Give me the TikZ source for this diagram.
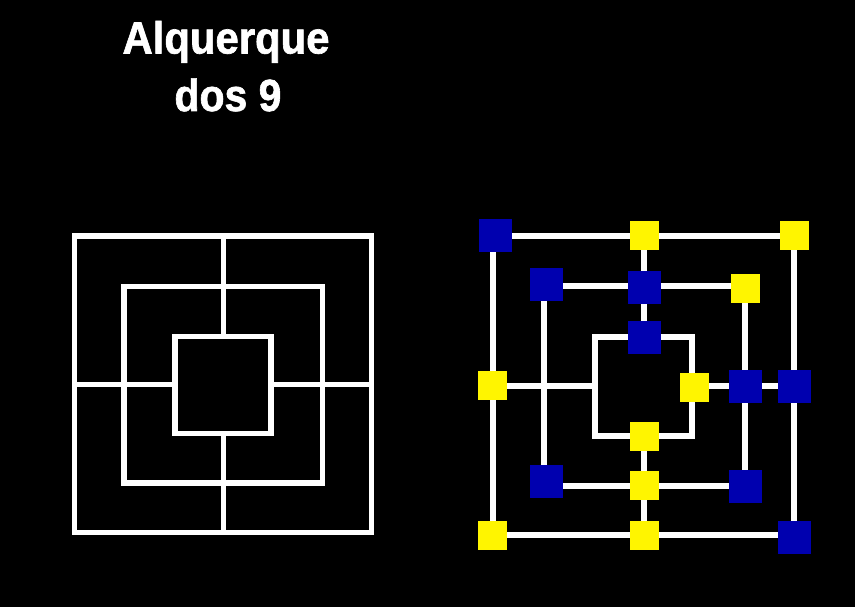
\documentclass[tikz,border=0pt]{standalone}
\usepackage{fontspec}
\setmainfont{Liberation Sans}
\newfontfamily\titlefont[BoldFeatures={FakeBold=1.5}]{Liberation Sans}
\definecolor{pieceblue}{RGB}{0,0,175}
\definecolor{pieceyellow}{RGB}{255,245,0}
\tikzset{board/.style={draw=white,line width=5.5pt},
 bluepiece/.style={fill=pieceblue,minimum size=33pt,inner sep=0pt},
 yellowpiece/.style={fill=pieceyellow,minimum size=29pt,inner sep=0pt},
 titletext/.style={text=white,font=\titlefont\bfseries\fontsize{45}{50}\selectfont,anchor=base},
 }

\begin{document}
\begin{tikzpicture}[x=1pt,y=-1pt]
        \fill[black] (0,0) rectangle (855,607);
        \useasboundingbox (0,0) rectangle (855,607);
        \node[titletext] (line1) at (226,53.5) {\scalebox{0.93}[1]{Alquerque}};
        \node[titletext] (line2) at (228,111) {\scalebox{0.91}[1]{dos 9}};

        \draw[board] (74.5,236) rectangle (371.5,532.5);
        \draw[board] (124,286.5) rectangle (322.5,483);
        \draw[board] (175,336.5) rectangle (271,433.5);
        \draw[board] (223.5,236) -- (223.5,336.5);
        \draw[board] (223.5,433.5) -- (223.5,532.5);
        \draw[board] (74.5,384.5) -- (175,384.5);
        \draw[board] (271,384.5) -- (371.5,384.5);

        \coordinate (oTL) at (493,236);
        \coordinate (oTM) at (644,236);
        \coordinate (oTR) at (794,236);
        \coordinate (oML) at (493,386);
        \coordinate (oMR) at (794,386);
        \coordinate (oBL) at (493,535);
        \coordinate (oBM) at (644,535);
        \coordinate (oBR) at (794,535);
        \coordinate (mTL) at (544,286);
        \coordinate (mTM) at (644,286);
        \coordinate (mTR) at (745,286);
        \coordinate (mML) at (544,386);
        \coordinate (mMR) at (745,386);
        \coordinate (mBL) at (544,486);
        \coordinate (mBM) at (644,486);
        \coordinate (mBR) at (745,486);
        \coordinate (iTL) at (595,337);
        \coordinate (iTM) at (644,337);
        \coordinate (iTR) at (692,337);
        \coordinate (iML) at (595,386);
        \coordinate (iMR) at (692,386);
        \coordinate (iBL) at (595,436);
        \coordinate (iBM) at (644,436);
        \coordinate (iBR) at (692,436);

        \draw[board] (oTL) -- (oTR) -- (oBR) -- (oBL) -- cycle;
        \draw[board] (mTL) -- (mTR) -- (mBR) -- (mBL) -- cycle;
        \draw[board] (iTL) -- (iTR) -- (iBR) -- (iBL) -- cycle;
        \draw[board] (oTM) -- (iTM);
        \draw[board] (iBM) -- (oBM);
        \draw[board] (oML) -- (iML);
        \draw[board] (iMR) -- (oMR);

        \node[bluepiece] (b1) at ([xshift=2pt]oTL) {};
        \node[bluepiece] (b2) at ([xshift=2pt,yshift=2pt]mTL) {};
        \node[bluepiece] (b3) at ([yshift=-1pt]mTM) {};
        \node[bluepiece] (b4) at (iTM) {};
        \node[bluepiece] (b5) at (mMR) {};
        \node[bluepiece] (b6) at (oMR) {};
        \node[bluepiece] (b7) at ([xshift=2pt,yshift=5pt]mBL) {};
        \node[bluepiece] (b8) at (mBR) {};
        \node[bluepiece] (b9) at ([yshift=-2pt]oBR) {};

        \node[yellowpiece] (y1) at (oTM) {};
        \node[yellowpiece] (y2) at (oTR) {};
        \node[yellowpiece] (y3) at ([yshift=-2pt]mTR) {};
        \node[yellowpiece] (y4) at ([xshift=-1pt,yshift=1pt]oML) {};
        \node[yellowpiece] (y5) at ([xshift=2pt,yshift=-1pt]iMR) {};
        \node[yellowpiece] (y6) at (iBM) {};
        \node[yellowpiece] (y7) at ([yshift=1pt]mBM) {};
        \node[yellowpiece] (y8) at ([xshift=-1pt]oBL) {};
        \node[yellowpiece] (y9) at (oBM) {};
    \end{tikzpicture}
\end{document}
